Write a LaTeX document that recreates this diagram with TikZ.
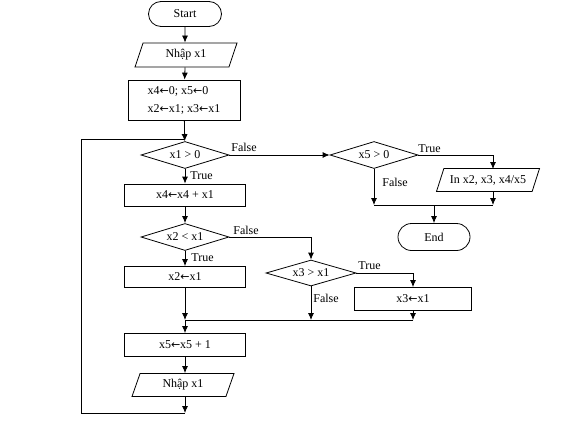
\documentclass[tikz,border=0pt]{standalone}
\usepackage{fontspec}
\setmainfont{Liberation Serif}
\newfontfamily\arrowfont{DejaVu Sans}
\newcommand{\getsto}{{\arrowfont\fontsize{11}{14}\selectfont ←}}
\usetikzlibrary{shapes,arrows,arrows.meta,calc,positioning}

\begin{document}
\begin{tikzpicture}[x=1pt,y=-1pt,line width=0.8pt,>={Latex[length=7pt,width=6pt]},font=\fontsize{12}{14}\selectfont]
	\tikzstyle{terminal} = [draw,rounded rectangle,minimum width=73pt,minimum height=25pt,inner sep=0pt]
	\tikzstyle{io} = [draw,trapezium,trapezium left angle=58,trapezium right angle=122,trapezium stretches body,minimum width=102pt,minimum height=24pt,inner sep=1pt]
	\tikzstyle{process} = [draw,rectangle,minimum width=121pt,minimum height=22pt,inner sep=1pt]
	\tikzstyle{decision} = [draw,diamond,aspect=3.3,minimum width=88pt,minimum height=27pt,inner sep=0pt]
	\tikzstyle{label} = [anchor=base west,inner sep=0pt]
	\useasboundingbox (0,0) rectangle (577,420);
	% Main column
	\node[terminal] at (185,14) (start) {Start};
	\node[io] at (186,55) (in1) {Nhập x1};
	\node[process,minimum width=112pt,minimum height=40pt,align=left,font=\fontsize{12}{18}\selectfont] at (184,100) (init) {x4\getsto0; x5\getsto0\\x2\getsto x1; x3\getsto x1};
	\node[decision] at (185,155) (d1) {x1 > 0};
	\node[process] at (185,195) (s1) {x4\getsto x4 + x1};
	\node[decision] at (185,237) (d2) {x2 < x1};
	\node[process,minimum height=21pt] at (185,277) (s2) {x2\getsto x1};
	\node[process,minimum height=23pt] at (185,345) (s4) {x5\getsto x5 + 1};
	\node[io,minimum height=23pt] at (183,385) (in2) {Nhập x1};
	% Inner branch
	\node[decision,minimum width=90pt,minimum height=26pt] at (311,273) (d3) {x3 > x1};
	\node[process,minimum width=117pt,minimum height=23pt] at (413,299) (s3) {x3\getsto x1};
	% Output branch
	\node[decision] at (374,155) (d4) {x5 > 0};
	\node[io,minimum height=23pt,minimum width=103pt] at (488,180) (out) {In x2, x3, x4/x5};
	\node[terminal,minimum width=72pt,minimum height=27pt] at (434,237) (end) {End};
	% Merge points
	\coordinate (m1) at (185,320);
	\coordinate (m2) at (185,413);
	\coordinate (m3) at (374,205);
	\coordinate (lp) at (81,139);
	\coordinate (oj) at (493,169);
	% Flow
	\draw[->] (start) -- (start |- in1.north);
	\draw[->] (start |- in1.south) -- (init);
	\draw[->] (init) -- (d1);
	\draw[->] (d1) -- (d4);
	\draw[->] (d1) -- (s1);
	\draw[->] (s1) -- (d2);
	\draw[->] (d2) -- (s2);
	\draw[->] (d2.east) -| (d3.north);
	\draw[->] (d3.east) -| (s3.north);
	\draw[->] (s2) -- (m1);
	\draw[->] (d3.south) -- (d3.south |- m1);
	\draw[->] (s3.south) -- (s3.south |- m1);
	\draw (s3.south |- m1) -- (m1);
	\draw[->] (m1) -- (s4);
	\draw[->] (s4) -- (s4 |- in2.north);
	\draw[->] (s4 |- in2.south) -- (m2);
	\draw (m2) -| (lp) -- (init.south |- lp);
	\draw[->] (d4.east) -| (oj);
	\draw[->] (d4.south) -- (m3);
	\draw[->] (oj |- out.south) -- (oj |- m3);
	\draw (m3) -- (oj |- m3);
	\draw[->] (end.north |- m3) -- (end);
	% Labels
	\node[label] at (231,151) (f1) {False};
	\node[label] at (190,179) (t1) {True};
	\node[label] at (233,234) (f2) {False};
	\node[label] at (191,261) (t2) {True};
	\node[label] at (358,269) (t3) {True};
	\node[label] at (313,302) (f3) {False};
	\node[label] at (418,152) (t4) {True};
	\node[label] at (382,186) (f4) {False};
\end{tikzpicture}
\end{document}
